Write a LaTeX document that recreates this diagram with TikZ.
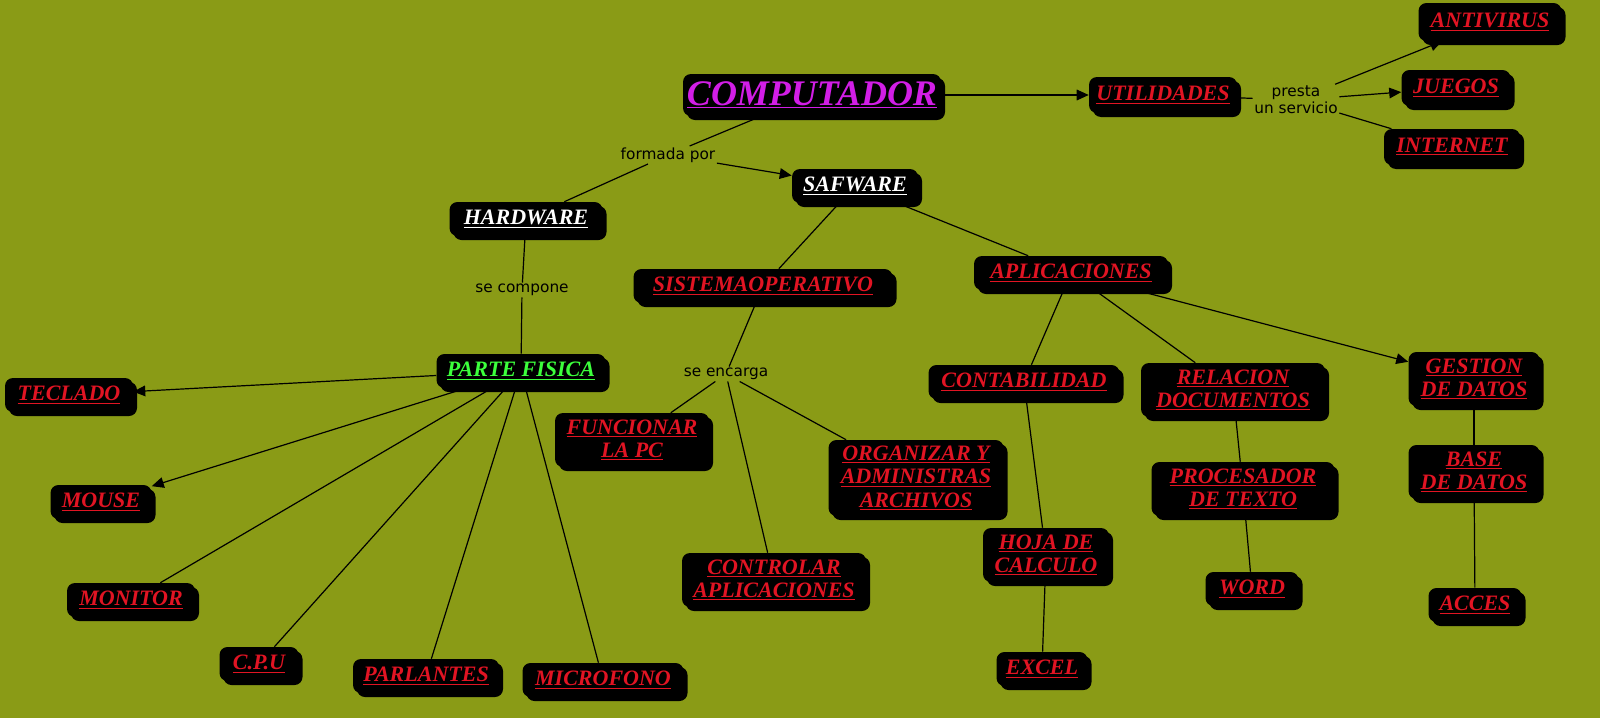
\documentclass[tikz,border=0pt]{standalone}
\usepackage{fontspec}
\setmainfont{Liberation Serif}
\newfontfamily\lab{DejaVu Sans}
\usetikzlibrary{arrows.meta,shadows}
\definecolor{bg}{RGB}{138,155,22}
\definecolor{rd}{RGB}{225,20,35}
\definecolor{mg}{RGB}{210,30,230}
\definecolor{gn}{RGB}{60,255,60}
\newcommand{\ul}[1]{\underline{#1}}
\begin{document}
\begin{tikzpicture}[x=0.75pt,y=-0.75pt,
  nb/.style={fill=black,rounded corners=6pt,inner sep=1pt,align=center,
    text=rd,font=\fontsize{16.5}{17.5}\selectfont\bfseries\itshape,
    general shadow={fill=black,shadow xshift=3pt,shadow yshift=-3pt}},
  lb/.style={font=\lab\fontsize{11.5}{13}\selectfont,align=center,inner sep=1pt},
  ln/.style={line width=0.9pt},
  ar/.style={line width=0.9pt,-{Triangle[length=9pt,width=8pt]}}]
\useasboundingbox (0,0) rectangle (1600,718);
\fill[bg] (0,0) rectangle (1600,718);
\newcommand{\nd}[6]{\node[nb,minimum width=#4*0.75pt-3pt,minimum height=#5*0.75pt-3pt] (#1) at (#2,#3) {#6};}
\nd{comp}{812}{95}{262}{46}{\fontsize{27}{28}\selectfont\color{mg}\ul{COMPUTADOR}}
\nd{util}{1163}{95}{152}{40}{\ul{UTILIDADES}}
\nd{anti}{1490}{22}{147}{42}{\ul{ANTIVIRUS}}
\nd{jueg}{1456}{88}{113}{40}{\ul{JUEGOS}}
\nd{inte}{1452}{147}{140}{40}{\ul{INTERNET}}
\nd{saf}{855}{186}{130}{38}{\color{white}\ul{SAFWARE}}
\nd{hard}{526}{219}{157}{38}{\color{white}\ul{HARDWARE}}
\nd{siso}{763}{286}{263}{38}{\ul{SISTEMAOPERATIVO}}
\nd{apli}{1071}{273}{198}{38}{\ul{APLICACIONES}}
\nd{pf}{521}{371}{173}{38}{\color{gn}\ul{PARTE FISICA}}
\nd{tec}{69}{395}{132}{38}{\ul{TECLADO}}
\nd{mou}{101}{502}{105}{38}{\ul{MOUSE}}
\nd{mon}{131}{600}{132}{38}{\ul{MONITOR}}
\nd{cpu}{259}{664}{83}{38}{\ul{C.P.U}}
\nd{par}{426}{676}{150}{38}{\ul{PARLANTES}}
\nd{mic}{603}{680}{165}{38}{\ul{MICROFONO}}
\nd{fun}{632}{440}{158}{58}{\ul{FUNCIONAR}\\\ul{LA PC}}
\nd{org}{916}{478}{179}{80}{\ul{ORGANIZAR Y}\\\ul{ADMINISTRAS}\\\ul{ARCHIVOS}}
\nd{con}{774}{580}{188}{58}{\ul{CONTROLAR}\\\ul{APLICACIONES}}
\nd{cont}{1024}{382}{195}{38}{\ul{CONTABILIDAD}}
\nd{rel}{1233}{390}{188}{58}{\ul{RELACION}\\\ul{DOCUMENTOS}}
\nd{ges}{1474}{379}{135}{58}{\ul{GESTION}\\\ul{DE DATOS}}
\nd{pro}{1243}{489}{187}{58}{\ul{PROCESADOR}\\\ul{DE TEXTO}}
\nd{base}{1474}{472}{135}{58}{\ul{BASE}\\\ul{DE DATOS}}
\nd{hoja}{1046}{555}{130}{58}{\ul{HOJA DE}\\\ul{CALCULO}}
\nd{word}{1252}{589}{97}{38}{\ul{WORD}}
\nd{acc}{1475}{605}{97}{38}{\ul{ACCES}}
\nd{exc}{1042}{669}{95}{38}{\ul{EXCEL}}
\node[lb] (fp) at (668,155) {formada por};
\node[lb] (ps) at (1296,100) {presta\\un servicio};
\node[lb] (sc) at (522,290) {se compone};
\node[lb] (se) at (726,374) {se encarga};
\draw[ln] (comp) -- (fp); \draw[ln] (fp) -- (hard); \draw[ar] (fp) -- (saf);
\draw[ar] (comp) -- (util); \draw[ln] (util) -- (ps);
\draw[ar] (ps) -- (anti); \draw[ar] (ps) -- (jueg); \draw[ln] (ps) -- (inte);
\draw[ln] (saf) -- (siso); \draw[ln] (saf) -- (apli);
\draw[ln] (hard) -- (sc); \draw[ln] (sc) -- (pf);
\draw[ar] (pf) -- (tec); \draw[ar] (pf) -- (mou);
\draw[ln] (pf) -- (mon); \draw[ln] (pf) -- (cpu); \draw[ln] (pf) -- (par); \draw[ln] (pf) -- (mic);
\draw[ln] (siso) -- (se); \draw[ln] (se) -- (fun); \draw[ln] (se) -- (con); \draw[ln] (se) -- (org);
\draw[ln] (apli) -- (cont); \draw[ln] (apli) -- (rel); \draw[ar] (apli) -- (ges);
\draw[ln] (cont) -- (hoja); \draw[ln] (hoja) -- (exc);
\draw[ln] (rel) -- (pro); \draw[ln] (pro) -- (word);
\draw[ln] (ges) -- (base); \draw[ln] (base) -- (acc);
\end{tikzpicture}
\end{document}
